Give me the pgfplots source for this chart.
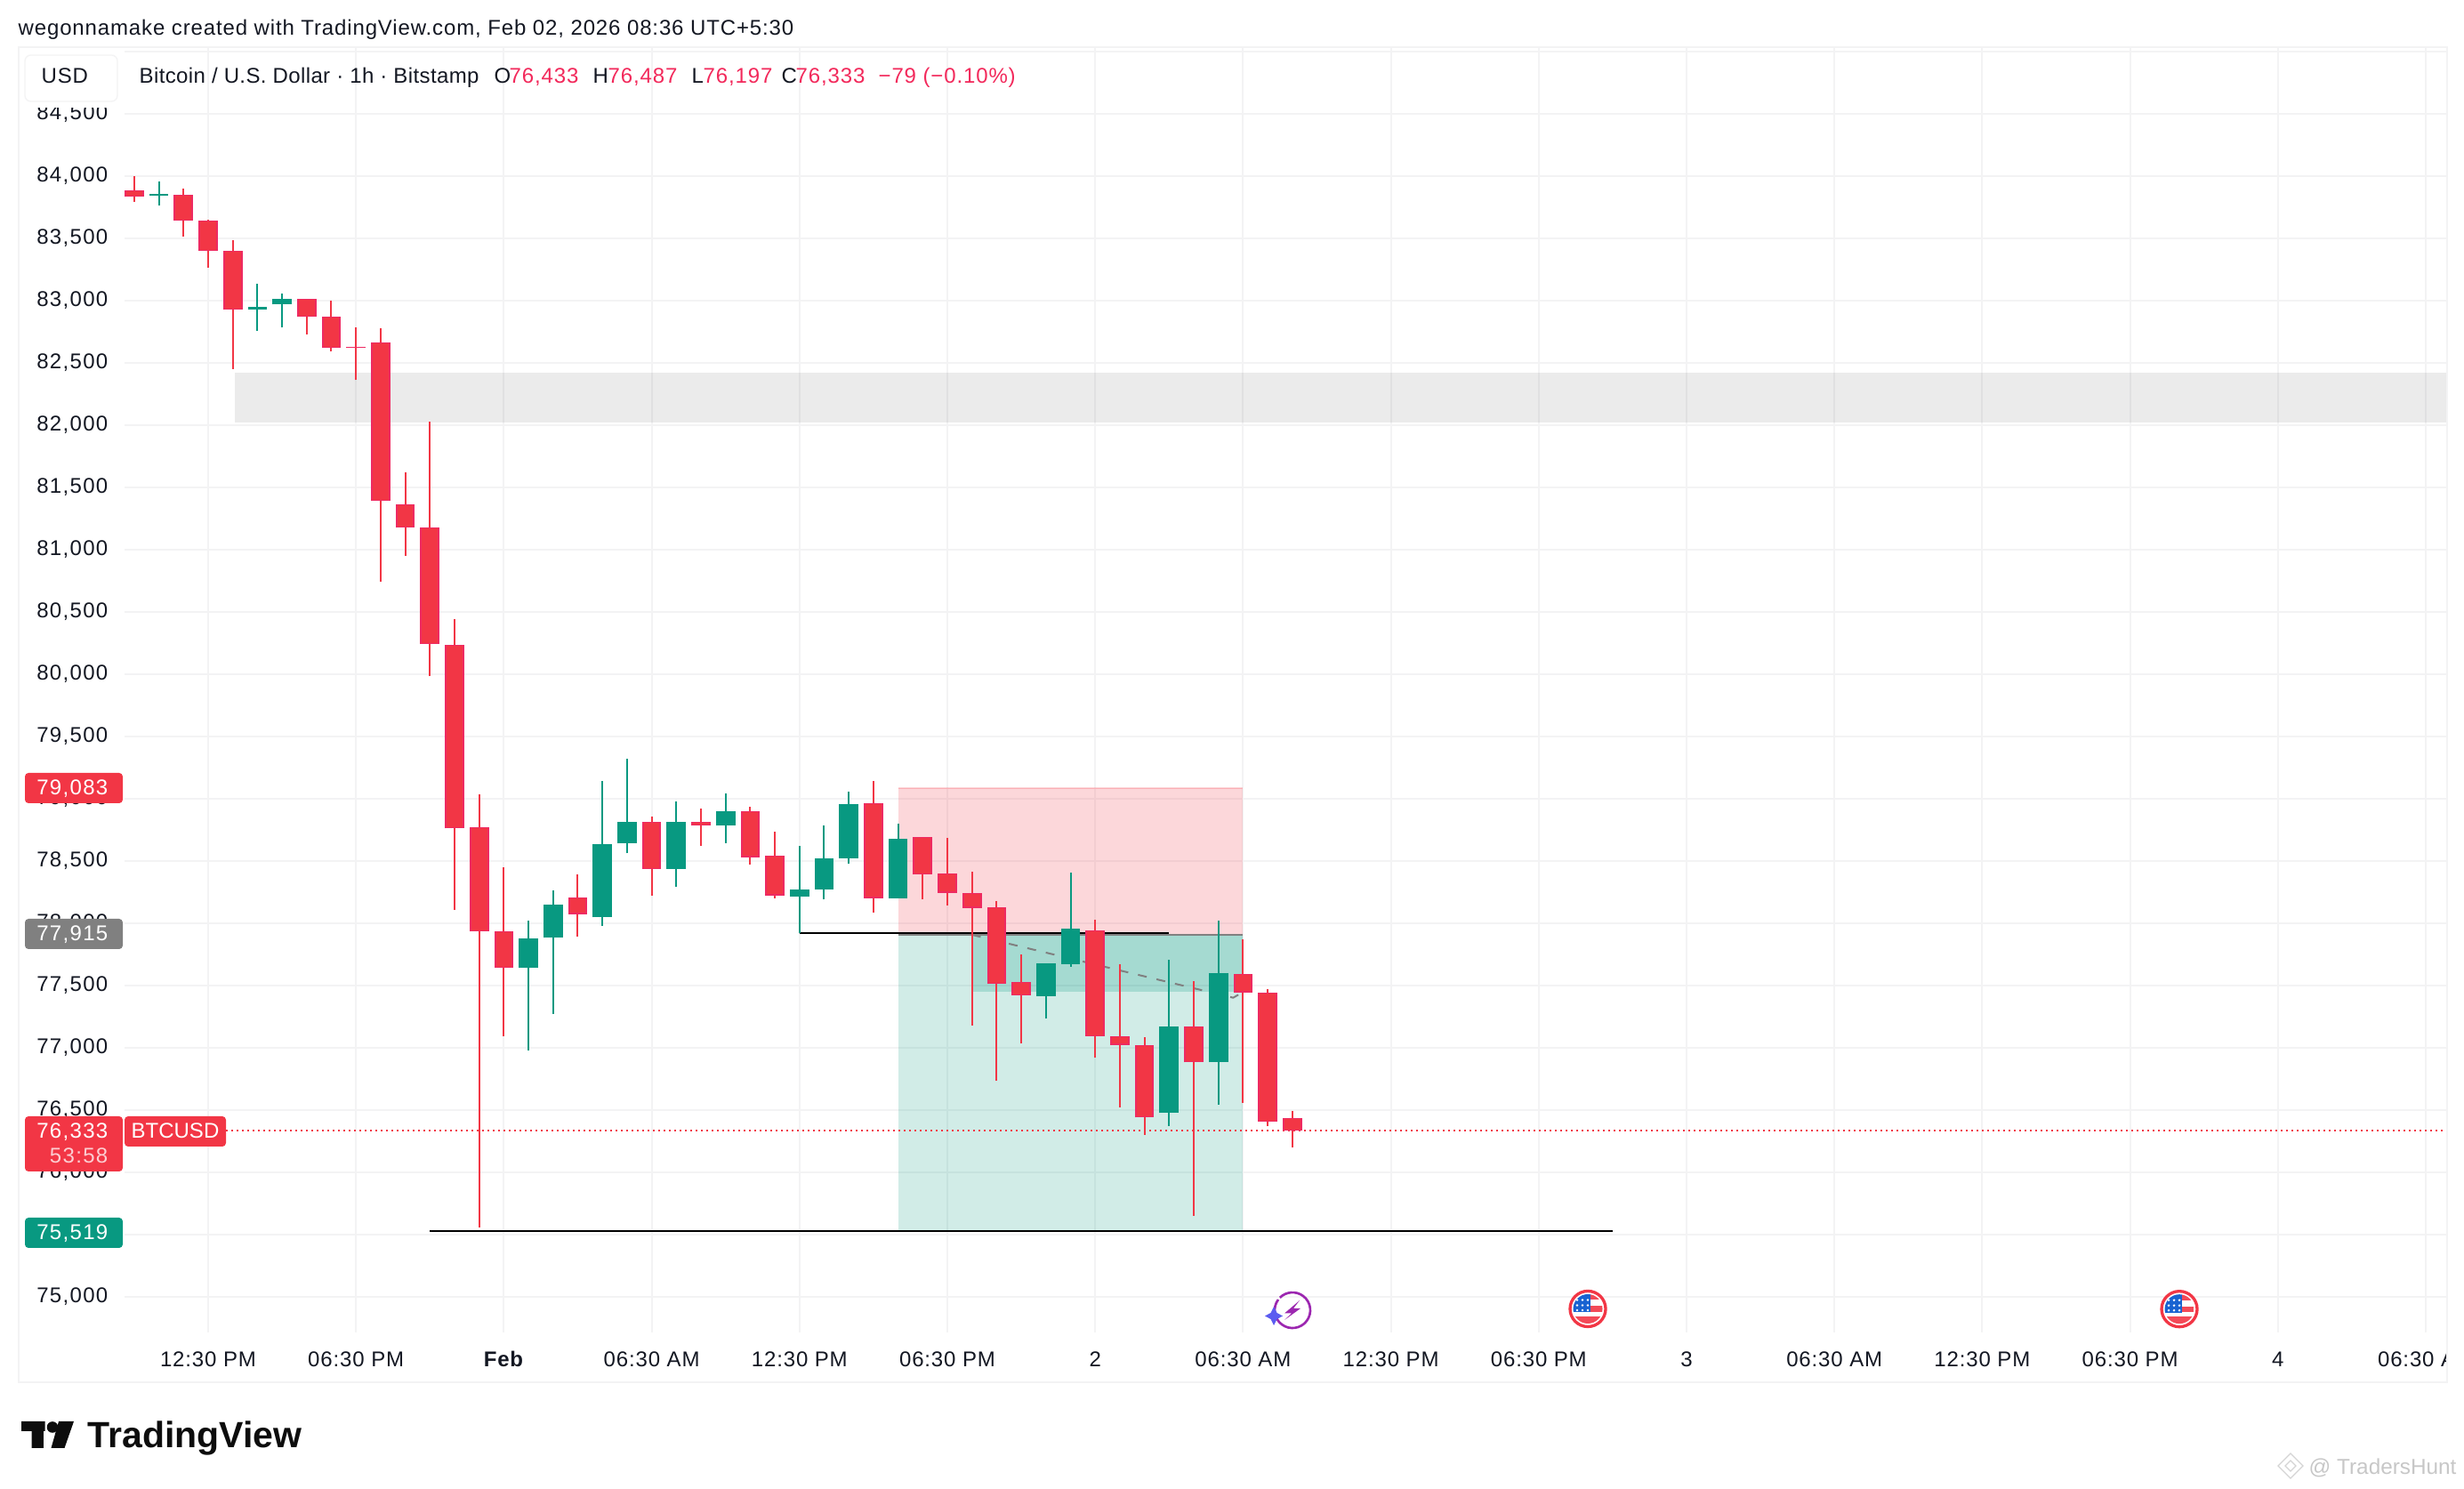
\documentclass[border=0pt]{standalone}
\usepackage{pgfplots}
\usepackage{pgfplotstable}
\usepackage{fontspec}
\pgfplotsset{compat=1.18}
\setmainfont[LetterSpace=3.6]{Liberation Sans}
\newfontfamily\logofont{Liberation Sans}
\newfontfamily\hdrfont[LetterSpace=1.6]{Liberation Sans}
\newfontfamily\yfont[LetterSpace=5.5]{Liberation Sans}
\definecolor{tvred}{HTML}{F23645}
\definecolor{tvredb}{HTML}{EE2A62}
\definecolor{tvgreen}{HTML}{089981}
\definecolor{tvgrid}{HTML}{F3F3F4}
\definecolor{tvtext}{HTML}{131722}
\definecolor{tvpink}{HTML}{F2295B}
\definecolor{tvpurple}{HTML}{9C27B0}
\definecolor{tvstar}{HTML}{5B5CF0}
\newcommand\lab{\fontsize{7.2}{8.6}\selectfont}
\newcommand\ylab{\yfont\fontsize{7.2}{8.6}\selectfont}
\pgfplotstableread{
t high low top bottom
-3 84000 83788 83886 83831
-1 83900 83509 83848 83641
0 83648 83259 83641 83395
1 83486 82450 83398 82923
4 83012 82723 83012 82866
5 83000 82588 82869 82616
6 82785 82359 82628 82616
7 82778 80742 82664 81390
8 81621 80949 81362 81173
9 82028 79980 81176 80240
10 80437 78108 80235 78759
11 79035 75557 78767 77930
12 78450 77088 77933 77643
15 78392 77894 78204 78072
18 78857 78222 78810 78433
20 78920 78622 78810 78780
22 78933 78466 78895 78529
23 78735 78201 78540 78222
27 79142 78086 78961 78201
29 78693 78187 78690 78387
30 78685 78143 78395 78244
31 78414 77178 78244 78122
32 78176 76730 78125 77514
33 77749 77031 77526 77421
36 78026 76916 77938 77093
37 77670 76522 77088 77022
38 77085 76300 77017 76437
40 77534 75650 77167 76880
42 77870 76558 77589 77444
43 77471 76366 77438 76407
44 76487 76197 76433 76333
}\redcandles
\pgfplotstableread{
t high low top bottom
-2 83957 83759 83857 83843
2 83136 82752 82950 82923
3 83057 82780 83014 82966
13 78020 76979 77878 77643
14 78264 77271 78149 77881
16 79142 77979 78635 78045
17 79316 78559 78813 78638
19 78977 78294 78813 78436
21 79043 78644 78898 78780
24 78619 77922 78269 78214
25 78783 78187 78520 78272
26 79057 78474 78955 78521
28 78800 78201 78677 78201
34 77676 77230 77676 77414
35 78406 77651 77954 77670
39 77706 76372 77170 76473
41 78020 76544 77599 76880
}\greencandles
\newcommand\usflag[2]{%
 \begin{scope}[shift={(#1,#2)}]
  \fill[white] (0,0) circle[radius=20];
  \begin{scope}
   \clip (0,0) circle[radius=16.5];
   \fill[tvred!90] (3,-17) rectangle (17,-10);
   \fill[tvred!90] (3,-3) rectangle (17,3.5);
   \fill[tvred!90] (-17,8.5) rectangle (17,17);
   \fill[blue!60!cyan!80!black!90] (-17,-17) rectangle (3.3,4);
   \foreach \a in {-12,-6,0}{\foreach \b in {-10,-4,1.5}{\fill[white] (\a,\b) circle[radius=1.4];}}
  \end{scope}
  \draw[tvred,line width=1pt] (0,0) circle[radius=20];
 \end{scope}}
\begin{document}
\begin{tikzpicture}
\path[use as bounding box] (0,0) rectangle (831pt,502.2pt);
\begin{axis}[
  at={(42pt,52.89pt)}, anchor=south west,
  scale only axis, width=783pt, height=433.11pt,
  xmin=-3.393, xmax=90.83, ymin=74714.3, ymax=85026.4,
  axis line style={draw=none}, major tick length=0pt,
  grid=major, grid style={color=tvgrid,line width=0.6pt},
  ytick distance=500, scaled y ticks=false,
  xtick={0,6,...,90},
  xticklabels={12:30 PM,06:30 PM,\textbf{Feb},06:30 AM,12:30 PM,06:30 PM,2,06:30 AM,12:30 PM,06:30 PM,3,06:30 AM,12:30 PM,06:30 PM,4,06:30 AM},
  tick label style={color=tvtext,inner sep=0pt},
  xticklabel style={font=\lab,anchor=base,yshift=-11.6pt},
  yticklabel style={font=\ylab,anchor=base east,xshift=-5.4pt,yshift=-1.9pt,
    /pgf/number format/.cd,fixed,precision=0,1000 sep={,},assume math mode=true},
  clip=true,
]
% zones
\addplot[fill=gray,draw=none,fill opacity=0.16,forget plot] coordinates {(1.08,82421)(90.83,82421)(90.83,82021)(1.08,82021)};
\addplot[fill=tvred,draw=none,fill opacity=0.2,forget plot] coordinates {(28,79090)(42,79090)(42,77915)(28,77915)};
\addplot[fill=tvgreen,draw=none,fill opacity=0.19,forget plot] coordinates {(28,77915)(42,77915)(42,75519)(28,75519)};
\addplot[fill=tvgreen,draw=none,fill opacity=0.22,forget plot] coordinates {(31,77915)(42,77915)(42,77450)(31,77450)};
\addplot[draw=tvred!40,line width=0.3pt,forget plot] coordinates {(28,79083)(42,79083)};
% level lines
\addplot[draw=black,line width=0.6pt,forget plot] coordinates {(24,77922)(39,77922)};
\addplot[draw=black,line width=0.6pt,forget plot] coordinates {(9,75527)(57,75527)};
\addplot[draw=gray,line width=0.6pt,forget plot] coordinates {(28,77905)(42,77905)};
\addplot[draw=gray,line width=0.6pt,dash pattern=on 3pt off 3.4pt,forget plot] coordinates {(31,77905)(41.6,77400)(42,77445)};
\addplot[draw=tvred,line width=0.6pt,dash pattern=on 0.6pt off 1.2pt,forget plot] coordinates {(-3.393,76333)(90.83,76333)};
% wicks
\addplot[draw=none,forget plot,error bars/.cd,y dir=plus,y explicit,error mark=none,
  error bar style={line width=0.6pt,color=tvred}]
  table[x=t,y=low,y error plus expr=\thisrow{high}-\thisrow{low}] {\redcandles};
\addplot[draw=none,forget plot,error bars/.cd,y dir=plus,y explicit,error mark=none,
  error bar style={line width=0.6pt,color=tvgreen}]
  table[x=t,y=low,y error plus expr=\thisrow{high}-\thisrow{low}] {\greencandles};
% bodies
\addplot[draw=none,forget plot,error bars/.cd,y dir=plus,y explicit,error mark=none,
  error bar style={line width=6.5pt,color=tvredb}]
  table[x=t,y=bottom,y error plus expr=\thisrow{top}-\thisrow{bottom}] {\redcandles};
\addplot[draw=none,forget plot,error bars/.cd,y dir=plus,y explicit,error mark=none,
  error bar style={line width=5.3pt,color=tvred}]
  table[x=t,y expr=\thisrow{bottom}+8,y error plus expr={max(\thisrow{top}-\thisrow{bottom}-16,0)}] {\redcandles};
\addplot[draw=none,forget plot,error bars/.cd,y dir=plus,y explicit,error mark=none,
  error bar style={line width=6.5pt,color=tvgreen}]
  table[x=t,y=bottom,y error plus expr=\thisrow{top}-\thisrow{bottom}] {\greencandles};
\end{axis}
\begin{scope}[shift={(0,502.2pt)},x=0.3pt,y=-0.3pt,every node/.style={inner sep=0pt,font=\lab,text=tvtext}]
 % mask over clipped labels
 \fill[white] (0,0) rectangle (138,121);
 \fill[white] (2751,1499) rectangle (2770,1552);
 % frame
 \draw[tvgrid,line width=0.6pt] (21,53) rectangle (2751,1554);
 % header
 \node[anchor=base west] at (20,40) {wegonnamake created with TradingView.com, Feb 02, 2026 08:36 UTC+5:30};
 \draw[fill=white,draw=tvgrid,line width=0.4pt,rounded corners=2pt] (28,62) rectangle (132,114);
 \node[anchor=base west] at (46,94) {USD};
 \node[anchor=base west] at (156,94) {\hdrfont Bitcoin / U.S. Dollar · 1h · Bitstamp};
 \node[anchor=base west] at (555,94) {O};
 \node[anchor=base west,text=tvpink] at (572,94) {76,433};
 \node[anchor=base west] at (666,94) {H};
 \node[anchor=base west,text=tvpink] at (683,94) {76,487};
 \node[anchor=base west] at (777,94) {L};
 \node[anchor=base west,text=tvpink] at (790,94) {76,197};
 \node[anchor=base west] at (878,94) {C};
 \node[anchor=base west,text=tvpink] at (894,94) {76,333};
 \node[anchor=base west,text=tvpink] at (987,94) {−79 (−0.10\%)};
 % price badges
 \fill[tvred,rounded corners=1.2pt] (28,869) rectangle (138,903);
 \node[anchor=base east,text=white,font=\ylab] at (122,893.5) {79,083};
 \fill[gray,rounded corners=1.2pt] (28,1033) rectangle (138,1067);
 \node[anchor=base east,text=white,font=\ylab] at (122,1057.5) {77,915};
 \fill[tvred,rounded corners=1.2pt] (28,1255) rectangle (138,1317);
 \node[anchor=base east,text=white,font=\ylab] at (122,1279.5) {76,333};
 \node[anchor=base east,text=tvred!25,font=\ylab] at (122,1307.5) {53:58};
 \fill[tvred,rounded corners=1.2pt] (140,1255) rectangle (254,1289);
 \node[anchor=base,text=white] at (197,1279.5) {\logofont BTCUSD};
 \fill[tvgreen,rounded corners=1.2pt] (28,1369) rectangle (138,1403);
 \node[anchor=base east,text=white,font=\ylab] at (122,1393.5) {75,519};
 % event icons
 \usflag{1785}{1471.5}
 \usflag{2450}{1471.7}
 \begin{scope}[shift={(1453,1473)}]
  \draw[tvpurple,line width=0.8pt] (-16,-12) arc[start angle=217,end angle=-135,radius=20];
  \fill[tvpurple] (8,-11)--(-9,3.5)--(-1,3.5)--(-9,11)--(9,-2)--(1,-2)--cycle;
  \fill[tvstar] (-21,-4)--(-17.5,3)--(-11,6.5)--(-17.5,10)--(-21,17)--(-24.5,10)--(-31,6.5)--(-24.5,3)--cycle;
 \end{scope}
 % TradingView logo
 \fill[black!95] (24,1598)--(50.5,1598)--(50.5,1609)--(48.8,1609)--(48.8,1628)--(35.6,1628)--(35.6,1609)--(24,1609)--cycle;
 \fill[black!95] (59,1604.5) circle[radius=6.3];
 \fill[black!95] (66,1598)--(83,1598)--(72.5,1628)--(57.5,1628)--cycle;
 \node[anchor=base west,text=black!95] at (98,1628) {\logofont\fontsize{12.3}{14}\selectfont\bfseries TradingView};
 % watermark
 \draw[black!17,line width=0.4pt] (2575,1634)--(2589,1648)--(2575,1662)--(2561,1648)--cycle;
 \draw[black!17,line width=0.4pt] (2575,1642)--(2581,1648)--(2575,1654)--(2569,1648)--cycle;
 \node[anchor=base west,text=black!22] at (2595,1658) {\logofont\fontsize{7.3}{9}\selectfont @ TradersHunt};
\end{scope}
\end{tikzpicture}
\end{document}
